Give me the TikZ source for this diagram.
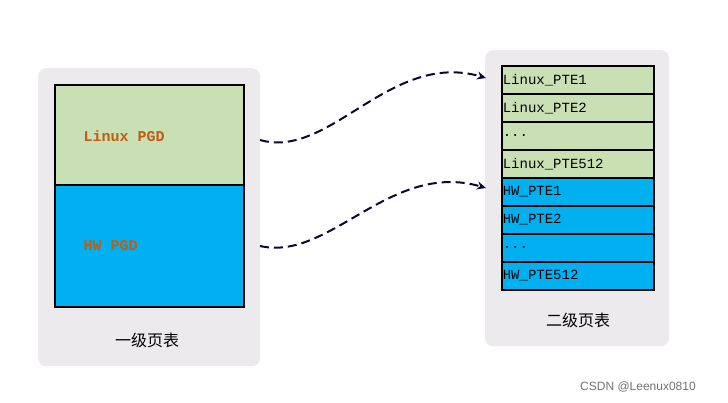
\documentclass[tikz,border=0pt]{standalone}
\usepackage{fontspec}
\setmainfont{Liberation Serif}
\newfontfamily\cjk{Noto Sans CJK SC}
\newfontfamily\mono{Liberation Mono}
\newfontfamily\sans{Liberation Sans}
\usetikzlibrary{arrows.meta}
\definecolor{pg}{HTML}{C8E0B4}
\definecolor{pb}{HTML}{00B0F0}
\definecolor{panel}{HTML}{ECEAED}
\definecolor{org}{HTML}{C55A11}
\definecolor{nav}{HTML}{0A0A30}
\begin{document}
\begin{tikzpicture}[x=1pt,y=-1pt,
  panel/.style={fill=panel,rounded corners=8pt},
  row/.style={draw=black,line width=1.6pt,minimum width=152pt,minimum height=28pt,inner sep=1pt,anchor=north west,font=\mono\fontsize{14}{14}\selectfont,text width=150pt,align=left},
  big/.style={draw=black,line width=1.6pt,minimum width=189pt,anchor=north west,inner sep=0pt},
  pgd/.style={font=\mono\bfseries\fontsize{15}{15}\selectfont,text=org,anchor=west},
  lab/.style={font=\cjk\fontsize{16}{16}\selectfont},
  arr/.style={draw=nav,line width=2pt,dash pattern=on 9pt off 5pt,-{Stealth[length=9pt,width=8pt]}}]
\useasboundingbox (0,0) rectangle (728,403);
\fill[white] (0,0) rectangle (728,403);
\node[panel,minimum width=222pt,minimum height=298pt,anchor=north west] (lp) at (38,68) {};
\node[panel,minimum width=184pt,minimum height=296pt,anchor=north west] (rp) at (485,50) {};
\node[big,fill=pg,minimum height=100pt] (g) at (54,84) {};
\node[big,fill=pb,minimum height=122pt] (b) at (54,184) {};
\node[pgd] (gt) at (80,136) {Linux PGD};
\node[pgd] (bt) at (80,246) {HW PGD};
\node[lab] (l1) at (147,340) {一级页表};
\node[row,fill=pg] (r1) at (501,65) {Linux\_PTE1};
\node[row,fill=pg] (r2) at (501,93) {Linux\_PTE2};
\node[row,fill=pg] (r3) at (501,121) {...};
\node[row,fill=pg] (r4) at (501,149) {Linux\_PTE512};
\node[row,fill=pb] (r5) at (501,177) {HW\_PTE1};
\node[row,fill=pb] (r6) at (501,205) {HW\_PTE2};
\node[row,fill=pb] (r7) at (501,233) {...};
\node[row,fill=pb] (r8) at (501,261) {HW\_PTE512};
\node[lab] (l2) at (578,320) {二级页表};
\coordinate (a1) at (260,140);
\coordinate (a2) at (260,246);
\coordinate (e1) at (486,78);
\coordinate (e2) at (486,188);
\draw[arr] (a1) .. controls (330,160) and (390,50) .. (e1);
\draw[arr] (a2) .. controls (330,262) and (390,160) .. (e2);
\node[font=\sans\fontsize{12}{12}\selectfont,text=black!55] (wm) at (638,387) {CSDN @Leenux0810};
\end{tikzpicture}
\end{document}
